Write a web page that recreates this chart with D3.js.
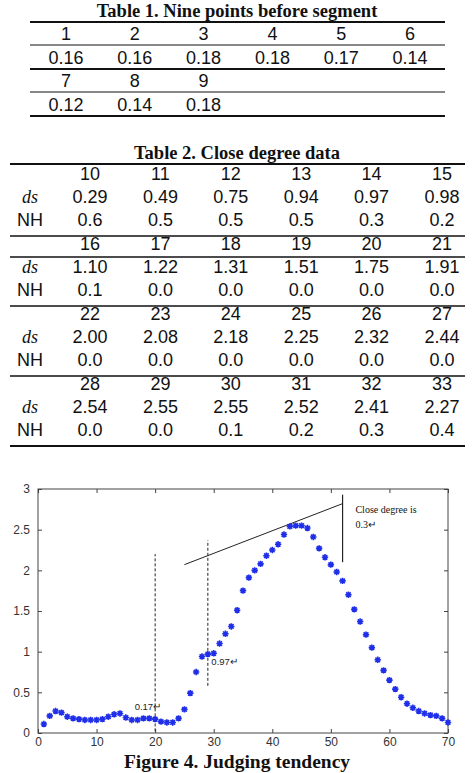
<!DOCTYPE html><html><head><meta charset="utf-8"><script src="https://cdn.jsdelivr.net/npm/d3@7"></script>
<style>body{margin:0;background:#fff}</style></head><body><svg id="s" width="474" height="773"></svg>
<script>
const t1Idx=[[1,2,3,4,5,6],[7,8,9]];
const t1Val=[["0.16","0.16","0.18","0.18","0.17","0.14"],["0.12","0.14","0.18"]];
const t2Idx=[[10,11,12,13,14,15],[16,17,18,19,20,21],[22,23,24,25,26,27],[28,29,30,31,32,33]];
const t2Ds=[["0.29","0.49","0.75","0.94","0.97","0.98"],["1.10","1.22","1.31","1.51","1.75","1.91"],["2.00","2.08","2.18","2.25","2.32","2.44"],["2.54","2.55","2.55","2.52","2.41","2.27"]];
const t2NH=[["0.6","0.5","0.5","0.5","0.3","0.2"],["0.1","0.0","0.0","0.0","0.0","0.0"],["0.0","0.0","0.0","0.0","0.0","0.0"],["0.0","0.0","0.1","0.2","0.3","0.4"]];
const ys=[0.11,0.21,0.27,0.25,0.20,0.18,0.17,0.16,0.16,0.16,0.17,0.20,0.23,0.24,0.19,0.16,0.16,0.18,0.18,0.17,0.14,0.13,0.13,0.18,0.29,0.49,0.75,0.94,0.97,0.98,1.10,1.22,1.31,1.51,1.75,1.91,2.00,2.08,2.18,2.25,2.32,2.44,2.54,2.55,2.55,2.52,2.41,2.27,2.16,2.07,1.98,1.87,1.70,1.52,1.37,1.21,1.05,0.90,0.77,0.65,0.54,0.44,0.36,0.31,0.27,0.24,0.22,0.21,0.18,0.13];
const xTicks=[0,10,20,30,40,50,60,70], yTicks=[0,0.5,1,1.5,2,2.5,3];
const svg=d3.select("#s");
const sans="Arial, 'Liberation Sans', sans-serif", serif="'Times New Roman','Liberation Serif',serif";
function txt(x,y,s,o={}){return svg.append("text").attr("x",x).attr("y",y).text(s).attr("font-family",o.f||sans).attr("font-size",o.s||18).attr("font-weight",o.w||"normal").attr("font-style",o.i||"normal").attr("text-anchor",o.a||"middle").attr("fill",o.c||"#111");}
function rule(x1,x2,y,w){svg.append("line").attr("x1",x1).attr("x2",x2).attr("y1",y).attr("y2",y).attr("stroke","#111").attr("stroke-width",w||1.5);}
// Table 1
txt(237,17,"Table 1. Nine points before segment",{f:serif,w:"bold",s:18.5});
const c1=d3.scalePoint().domain(d3.range(6)).range([66,410]);
[22,45,69,92,116].forEach((y,i)=>rule(30,445,y,i%2==0?2:1.2));
t1Idx.forEach((r,ri)=>{r.forEach((v,i)=>{txt(c1(i),40+ri*47,v);txt(c1(i),64+ri*47,t1Val[ri][i]);});});
// Table 2
txt(237,159,"Table 2. Close degree data",{f:serif,w:"bold",s:18.5});
const c2=d3.scalePoint().domain(d3.range(6)).range([90,442]);
rule(10,465,164,2);
t2Idx.forEach((r,bi)=>{const y0=174+bi*70;
 r.forEach((v,i)=>{txt(c2(i),y0+6,v);txt(c2(i),y0+29,t2Ds[bi][i]);txt(c2(i),y0+52,t2NH[bi][i]);});
 txt(30,y0+29,"ds",{f:serif,i:"italic",s:18});txt(30,y0+52,"NH");
 rule(10,465,y0+62,bi==3?2:1.5);
 if(bi==1) rule(10,465,y0+13,1.5);
});
// Chart
const x=d3.scaleLinear().domain([0,70]).range([38,448]);
const y=d3.scaleLinear().domain([0,3]).range([733,489]);
const g=svg.append("g");
g.append("rect").attr("x",38).attr("y",489).attr("width",410).attr("height",244).attr("fill","none").attr("stroke","#444");
g.append("g").attr("transform","translate(0,733)").call(d3.axisBottom(x).tickValues(xTicks).tickSize(-4).tickPadding(4));
g.append("g").attr("transform","translate(38,0)").call(d3.axisLeft(y).tickValues(yTicks).tickSize(-4).tickPadding(8).tickFormat(d3.format("~g")));
g.append("g").attr("transform","translate(0,489)").call(d3.axisTop(x).tickValues(xTicks).tickSize(-4).tickFormat(""));
g.append("g").attr("transform","translate(448,0)").call(d3.axisRight(y).tickValues(yTicks).tickSize(-4).tickFormat(""));
g.selectAll(".domain").remove();
g.selectAll("text").attr("font-family",sans).attr("font-size",12).attr("fill","#333");
g.selectAll(".tick line").attr("stroke","#444");
const L=(a,b,c,d,dash,w)=>g.append("line").attr("x1",x(a)).attr("y1",y(b)).attr("x2",x(c)).attr("y2",y(d)).attr("stroke","#222").attr("stroke-width",w||1).attr("stroke-dasharray",dash||null);
L(20,0.02,20,2.2,"3,2");L(29,0.58,29,2.37,"3,2");L(25,2.07,52,2.82);L(52,2.1,52,2.93,null,1.2);
txt(x(16.5),y(0.28),"0.17↵",{s:9.5,c:"#222",a:"start"});
txt(x(29.6),y(0.84),"0.97↵",{s:9.5,c:"#222",a:"start"});
txt(x(54.2),y(2.7),"Close degree is",{f:serif,s:10,a:"start"});
txt(x(54.2),y(2.52),"0.3↵",{f:serif,s:10,a:"start"});
const pts=g.append("g").attr("stroke","#1f2ee8").attr("stroke-width",1.6);
ys.forEach((v,i)=>{const px=x(i+1),py=y(v),r=3.2,q=2.3;
 pts.append("path").attr("d",`M${px-r},${py}H${px+r}M${px},${py-r}V${py+r}M${px-q},${py-q}L${px+q},${py+q}M${px-q},${py+q}L${px+q},${py-q}`);});
txt(237,768,"Figure 4. Judging tendency",{f:serif,w:"bold",s:19.5});
</script></body></html>
